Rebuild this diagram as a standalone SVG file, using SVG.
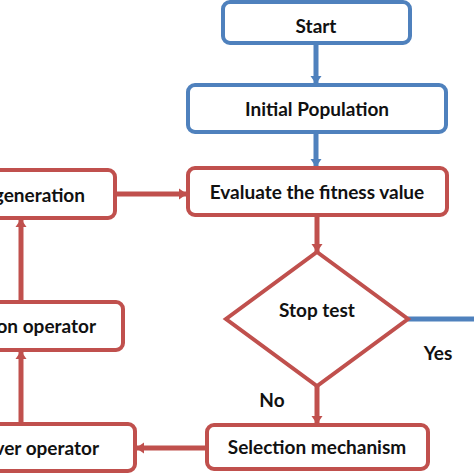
<svg xmlns="http://www.w3.org/2000/svg" width="474" height="474" viewBox="0 0 474 474">
<style>
.rb{fill:#fff;stroke:#c0504d;stroke-width:4}
.bb{fill:#fff;stroke:#4f81bd;stroke-width:4}
.t{font-family:Lato,"Liberation Sans",sans-serif;font-weight:bold;font-size:19px;fill:#111}
.rc{stroke:#c0504d;stroke-width:5;fill:none}
.bc{stroke:#4f81bd;stroke-width:5;fill:none}
</style>
<defs>
<marker id="ar" markerWidth="4" markerHeight="4" refX="1.6" refY="2" orient="auto" markerUnits="strokeWidth"><path d="M0,0.9 L1.6,2 L0,3.1 Z" fill="#c0504d"/></marker>
<marker id="ab" markerWidth="4" markerHeight="4" refX="1.6" refY="2" orient="auto" markerUnits="strokeWidth"><path d="M0,0.9 L1.6,2 L0,3.1 Z" fill="#4f81bd"/></marker>
</defs>
<g id="connectors">
<line class="bc" x1="316" y1="44" x2="316" y2="84" marker-end="url(#ab)"/>
<line class="bc" x1="316" y1="133" x2="316" y2="167" marker-end="url(#ab)"/>
<line class="rc" x1="116" y1="194" x2="187" y2="194" marker-end="url(#ar)"/>
<line class="rc" x1="317" y1="216" x2="317" y2="252" marker-end="url(#ar)"/>
<line class="bc" x1="408" y1="319" x2="474" y2="319"/>
<line class="rc" x1="317" y1="386" x2="317" y2="424" marker-end="url(#ar)"/>
<line class="rc" x1="206" y1="448" x2="136" y2="448" marker-end="url(#ar)"/>
<line class="rc" x1="21" y1="423" x2="21" y2="351" marker-end="url(#ar)"/>
<line class="rc" x1="21" y1="301" x2="21" y2="219" marker-end="url(#ar)"/>
</g>
<g id="start"><rect class="bb" x="223" y="2" width="187" height="41" rx="7"/><text class="t" x="316" y="33" text-anchor="middle">Start</text></g>
<g id="initial"><rect class="bb" x="188" y="85" width="258" height="47" rx="7"/><text class="t" x="317" y="116" text-anchor="middle">Initial Population</text></g>
<g id="evaluate"><rect class="rb" x="188" y="168" width="259" height="47" rx="7"/><text class="t" x="317" y="199" text-anchor="middle">Evaluate the fitness value</text></g>
<g id="nextgen"><rect class="rb" x="-60" y="170" width="175" height="48" rx="7"/><text class="t" x="85" y="202" text-anchor="end">generation</text></g>
<g id="stoptest"><polygon class="rb" points="317,252 408,319 317,386 226,319"/><text class="t" x="317" y="317" text-anchor="middle">Stop test</text></g>
<g id="mutation"><rect class="rb" x="-60" y="302" width="183" height="48" rx="7"/><text class="t" x="96" y="333" text-anchor="end">on operator</text></g>
<g id="crossover"><rect class="rb" x="-60" y="424" width="195" height="47" rx="7"/><text class="t" x="99" y="455" text-anchor="end">ver operator</text></g>
<g id="selection"><rect class="rb" x="207" y="425" width="221" height="44" rx="7"/><text class="t" x="317" y="454" text-anchor="middle">Selection mechanism</text></g>
<text class="t" x="438" y="360" text-anchor="middle">Yes</text>
<text class="t" x="272" y="407" text-anchor="middle">No</text>
</svg>
